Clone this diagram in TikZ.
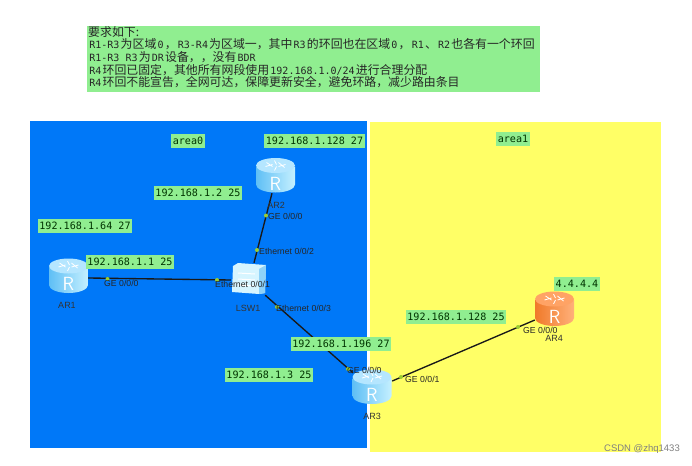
\documentclass[tikz,border=0pt]{standalone}
\usepackage{fontspec}
\setmainfont{Liberation Sans}
\setmonofont{DejaVu Sans Mono}
\newfontfamily\cjk{Noto Sans CJK SC}
\definecolor{areablue}{HTML}{0078F8}
\definecolor{areayellow}{HTML}{FFFF66}
\definecolor{notegreen}{HTML}{90EE90}
\definecolor{portdot}{HTML}{9ACD32}
\definecolor{rbl}{HTML}{5FBFF5}
\definecolor{rbr}{HTML}{C5F0FF}
\definecolor{rbt}{HTML}{B5E6FF}
\definecolor{rol}{HTML}{F07A2A}
\definecolor{ror}{HTML}{FFB07A}
\definecolor{rot}{HTML}{FFA365}
\newcommand{\nm}[1]{\hspace{1.2pt}{\ttfamily\fontsize{10}{10}\selectfont #1}\hspace{1.2pt}}
\tikzset{
  areabox/.style={draw=none,inner sep=0pt,anchor=north west},
  iplabel/.style={fill=notegreen,inner sep=1.5pt,minimum height=14pt,font=\ttfamily\fontsize{10.1}{11}\selectfont,text=black!80!green},
  devlabel/.style={font=\fontsize{9}{10}\selectfont,text=black!80,inner sep=0pt},
  portlabel/.style={font=\fontsize{8.7}{10}\selectfont,text=black!85,inner sep=0pt,anchor=west},
  devnode/.style={minimum width=39pt,minimum height=34pt,inner sep=0pt},
  swnode/.style={minimum width=35pt,minimum height=31pt,inner sep=0pt},
  link/.style={draw=black!90,line width=1.35pt},
  pdot/.style={circle,fill=portdot,inner sep=0pt,minimum size=4pt},
  pics/routericon/.style n args={3}{code={
    \shade[left color=#1,right color=#2] (-19.5,-9) -- (-19.5,9) arc[start angle=180,end angle=0,x radius=19.5,y radius=8,y=1pt] -- (19.5,-9) -- cycle;
    \fill[#3] (0,-10) ellipse[x radius=19.5,y radius=7.5];
    \draw[white,line width=0.8pt] (-10,-9) -- (-3,-11) (3,-9) -- (10,-11) (-9,-13) -- (-3,-9) (3,-13) -- (9,-8) (-1,-15) -- (1,-11) (-1,-5) -- (1,-9);
    \node[white,font=\fontsize{19}{19}\selectfont\sffamily] at (0,8) {R};
  }},
}
\begin{document}
\begin{tikzpicture}[x=1pt,y=-1pt]
\useasboundingbox (0,0) rectangle (692,465);
\fill[white] (0,0) rectangle (692,465);
% areas and note
\node[areabox,fill=areablue,minimum width=337pt,minimum height=327pt] (blue) at (30,121) {};
\node[areabox,fill=areayellow,minimum width=291pt,minimum height=330pt] (yellow) at (370,122) {};
\node[areabox,fill=notegreen,minimum width=453pt,minimum height=66pt] (note) at (87,26) {};
\node[anchor=north west,inner sep=0pt,align=left,font=\cjk\fontsize{11.9}{12.7}\selectfont,text=black!85] (notetext) at (88,26)
{要求如下:\\
\nm{R1-R3}为区域\nm{0}，\nm{R3-R4}为区域一，其中\nm{R3}的环回也在区域\nm{0}，\nm{R1}、\nm{R2}也各有一个环回\\
\nm{R1-R3 R3}为\nm{DR}设备，，没有\nm{BDR}\\
\nm{R4}环回已固定，其他所有网段使用\nm{192.168.1.0/24}进行合理分配\\
\nm{R4}环回不能宣告，全网可达，保障更新安全，避免环路，减少路由条目};
% device nodes
\node[devnode] (ar1) at (68.5,276) {};
\node[devnode] (ar2) at (275.5,175.5) {};
\node[swnode] (lsw) at (248.5,278.5) {};
\node[devnode] (ar3) at (372,387) {};
\node[devnode] (ar4) at (554.5,309) {};
% links
\draw[link] ([shift={(0,2)}]ar1.east) -- ([shift={(0,1.5)}]lsw.west);
\draw[link] ([shift={(-3.5,0.5)}]ar2.south) -- ([shift={(5.5,0)}]lsw.north);
\draw[link] ([shift={(-1,1)}]lsw.south east) -- ([shift={(-19,3)}]ar3.north);
\draw[link] ([shift={(0.5,-6)}]ar3.east) -- ([shift={(0,11)}]ar4.west);
% icons
\pic at (68.5,276) {routericon={rbl}{rbr}{rbt}};
\pic at (275.5,175.5) {routericon={rbl}{rbr}{rbt}};
\pic at (372,387) {routericon={rbl}{rbr}{rbt}};
\pic at (554.5,309) {routericon={rol}{ror}{rot}};
% switch icon
\fill[rbr!70!white] (233,266) -- (238,263) -- (266,265) -- (265,293) -- (259,294) -- (232,292) -- cycle;
\fill[rbl!70!white] (259,269) -- (266,265) -- (265,293) -- (259,294) -- cycle;
\draw[white,line width=1pt] (238,273) -- (255,274) (238,279) -- (255,280) (238,285) -- (255,286);
% port dots
\node[pdot] (p1) at (107.5,279) {};
\node[pdot] (p2) at (217,280) {};
\node[pdot] (p3) at (266,215.5) {};
\node[pdot] (p4) at (257,250) {};
\node[pdot] (p5) at (277,307) {};
\node[pdot] (p6) at (348,369) {};
\node[pdot] (p7) at (401,377) {};
\node[pdot] (p8) at (518,327) {};
% port labels
\node[portlabel] (l1) at (104,283) {GE 0/0/0};
\node[portlabel] (l2) at (215,284.5) {Ethernet 0/0/1};
\node[portlabel] (l3) at (268,216) {GE 0/0/0};
\node[portlabel] (l4) at (259,251) {Ethernet 0/0/2};
\node[portlabel] (l5) at (276,308) {Ethernet 0/0/3};
\node[portlabel] (l6) at (347,370) {GE 0/0/0};
\node[portlabel] (l7) at (405,379) {GE 0/0/1};
\node[portlabel] (l8) at (523,330) {GE 0/0/0};
% device labels
\node[devlabel] (t1) at (67,305) {AR1};
\node[devlabel] (t2) at (276,205) {AR2};
\node[devlabel] (t3) at (248,308) {LSW1};
\node[devlabel] (t4) at (372,416) {AR3};
\node[devlabel] (t5) at (554,338.5) {AR4};
% ip labels
\node[iplabel] (i1) at (188,141) {area0};
\node[iplabel] (i2) at (314.5,141) {192.168.1.128 27};
\node[iplabel] (i3) at (198,193) {192.168.1.2 25};
\node[iplabel] (i4) at (85,226) {192.168.1.64 27};
\node[iplabel] (i5) at (130,262) {192.168.1.1 25};
\node[iplabel] (i6) at (341,343.5) {192.168.1.196 27};
\node[iplabel] (i7) at (269,375) {192.168.1.3 25};
\node[iplabel] (i8) at (456,317) {192.168.1.128 25};
\node[iplabel] (i9) at (513,139) {area1};
\node[iplabel] (i10) at (577,284) {4.4.4.4};
\node[font=\fontsize{9.5}{11}\selectfont,text=black!50,inner sep=0pt,anchor=east] (wm) at (680,449) {CSDN @zhq1433};
\end{tikzpicture}
\end{document}
